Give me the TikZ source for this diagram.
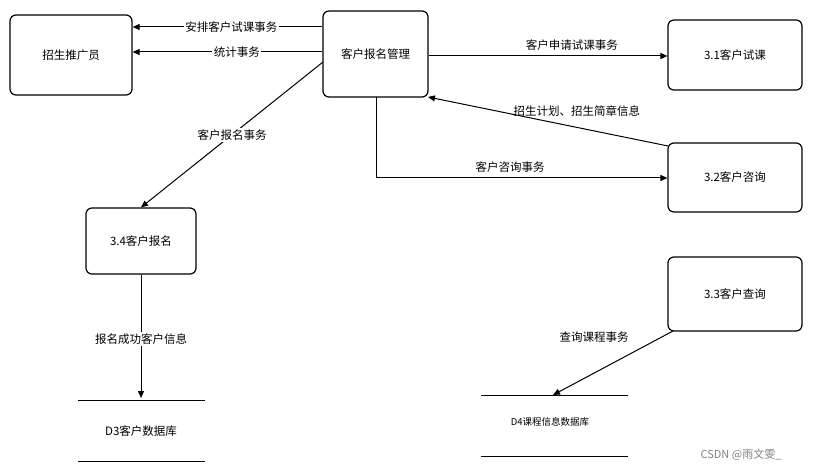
\documentclass[tikz,border=0pt]{standalone}
\usepackage{fontspec}
\setmainfont{Noto Sans CJK SC}
\usetikzlibrary{arrows.meta}
\begin{document}
\begin{tikzpicture}[x=1pt,y=-1pt,
  box/.style={draw,line width=1.2pt,rounded corners=6pt,font=\fontsize{11.5}{13}\selectfont},
  arr/.style={draw,line width=1pt,-{Triangle[length=7pt,width=6pt]}},
  lbl/.style={fill=white,inner sep=1.5pt,font=\fontsize{11.5}{13}\selectfont},
  store/.style={line width=1pt}]
\useasboundingbox (0,0) rectangle (814,473);
\node[box,minimum width=122pt,minimum height=80pt] (zs) at (71,55) {招生推广员};
\node[box,minimum width=105pt,minimum height=86pt] (gl) at (375.5,54) {客户报名管理};
\node[box,minimum width=134pt,minimum height=70pt] (s31) at (735,55) {3.1客户试课};
\node[box,minimum width=134pt,minimum height=69pt] (s32) at (735,177.5) {3.2客户咨询};
\node[box,minimum width=110pt,minimum height=66pt] (s34) at (141,241) {3.4客户报名};
\node[box,minimum width=134pt,minimum height=74pt] (s33) at (735,294) {3.3客户查询};
% D3
\coordinate (d3a) at (78,400); \coordinate (d3b) at (205,400);
\coordinate (d3c) at (78,461); \coordinate (d3d) at (205,461);
\draw[store] (d3a) -- (d3b); \draw[store] (d3c) -- (d3d);
\node[font=\fontsize{11.5}{13}\selectfont] (d3) at (141,431) {D3客户数据库};
% D4
\coordinate (d4a) at (481,395); \coordinate (d4b) at (628,395);
\coordinate (d4c) at (481,456); \coordinate (d4d) at (628,456);
\draw[store] (d4a) -- (d4b); \draw[store] (d4c) -- (d4d);
\node[font=\fontsize{9.5}{11}\selectfont] (d4) at (550,422) {D4课程信息数据库};
% arrows
\draw[arr] (gl.west|-0,27) -- node[lbl,pos=0.48]{安排客户试课事务} (zs.east|-0,27);
\draw[arr] (gl.west|-0,52) -- node[lbl,pos=0.45]{统计事务} (zs.east|-0,52);
\draw[arr] (323,62) -- node[lbl,pos=0.5]{客户报名事务} (s34.north);
\draw[arr] (gl.east|-0,56) -- node[lbl,above=4pt,pos=0.6,fill=none]{客户申请试课事务} (s31.west|-0,56);
\draw[arr] (668,146) -- node[lbl,above=9pt,pos=0.38,fill=none]{招生计划、招生简章信息} (428,97);
\draw[arr] (376,97) |- node[lbl,above=3pt,pos=0.73,fill=none]{客户咨询事务} (s32.west|-0,178);
\draw[arr] (s34.south) -- node[lbl,pos=0.52]{报名成功客户信息} (141,398);
\draw[arr] (673,331) -- (553,395);
\node[lbl,fill=none] (q) at (594,337) {查询课程事务};
\node[text=gray,font=\fontsize{11}{13}\selectfont] (wm) at (741,455) {CSDN @雨文雯\_};
\end{tikzpicture}
\end{document}
